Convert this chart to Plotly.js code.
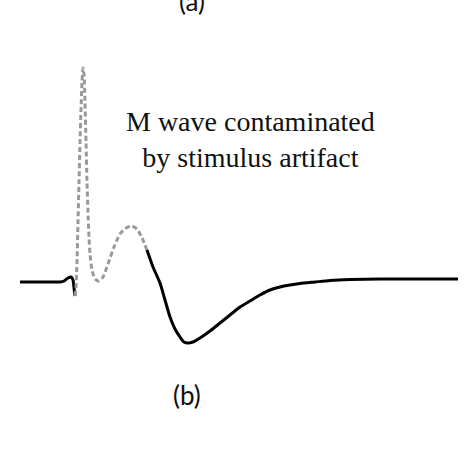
<!DOCTYPE html>
<html>
<head>
<meta charset="utf-8">
<script src="https://cdn.plot.ly/plotly-3.0.1.min.js"></script>
<style>html,body{margin:0;padding:0;background:#fff;}#chart{width:474px;height:474px;}</style>
</head>
<body>
<div id="chart"></div>
<script>
// Trace sampled from the figure: time (arbitrary units), amplitude (arbitrary units, baseline = 0)
const preTime = [20, 40, 60, 64, 68, 71, 73, 74, 75];
const preAmp  = [0, 0, 0, 1, 4, 5, 2, -6, -14];

const artifactTime = [75, 76, 77, 78, 79, 80, 81, 82, 83, 84, 85, 86, 87, 88, 89, 90, 92, 95, 99, 103, 108, 114, 120, 126, 132, 137, 142, 147];
const artifactAmp  = [-14, -5, 20, 60, 100, 140, 172, 200, 214, 208, 180, 140, 100, 70, 45, 28, 12, 3, 1, 5, 18, 35, 48, 54, 56, 53, 44, 32];

const mwaveTime = [147, 153, 160, 165, 170, 175, 180, 184, 188, 193, 200, 210, 220, 230, 240, 250, 260, 270, 280, 290, 300, 315, 330, 350, 380, 420, 458];
const mwaveAmp  = [32, 15, -1, -18, -35, -47, -55, -60, -61, -60, -56, -49, -41, -33, -25, -19, -13, -8, -5, -3, -1.5, 0, 1.5, 2.5, 3, 3, 3];

const labelTop = "(a)";
const labelBottom = "(b)";
const caption = "M wave contaminated<br>by stimulus artifact";

const traces = [
  {x: preTime, y: preAmp, mode: 'lines', line: {color: '#000', width: 3, shape: 'spline', smoothing: 0.6}, hoverinfo: 'skip'},
  {x: artifactTime, y: artifactAmp, mode: 'lines', line: {color: '#999999', width: 3, dash: '5px,3px', shape: 'spline', smoothing: 0.6}, hoverinfo: 'skip'},
  {x: mwaveTime, y: mwaveAmp, mode: 'lines', line: {color: '#000', width: 3, shape: 'spline', smoothing: 0.6}, hoverinfo: 'skip'}
];

const layout = {
  width: 474, height: 474,
  margin: {l: 0, r: 0, t: 0, b: 0},
  paper_bgcolor: '#fff', plot_bgcolor: '#fff',
  showlegend: false,
  xaxis: {range: [0, 474], visible: false, fixedrange: true},
  yaxis: {range: [-192, 282], visible: false, fixedrange: true},
  annotations: [
    {text: caption, xref: 'paper', yref: 'paper', x: 250/474, y: 1 - 139/474, xanchor: 'center', yanchor: 'middle', showarrow: false,
     font: {family: 'Liberation Serif', size: 28, color: '#111'}},
    {text: labelBottom, xref: 'paper', yref: 'paper', x: 187/474, y: 1 - 395/474, xanchor: 'center', yanchor: 'middle', showarrow: false,
     font: {family: 'Lato', size: 26, color: '#111'}},
    {text: labelTop, xref: 'paper', yref: 'paper', x: 192/474, y: 1 - 1/474, xanchor: 'center', yanchor: 'middle', showarrow: false,
     font: {family: 'Lato', size: 26, color: '#111'}}
  ]
};

Plotly.newPlot('chart', traces, layout, {displayModeBar: false, staticPlot: true});
</script>
</body>
</html>
